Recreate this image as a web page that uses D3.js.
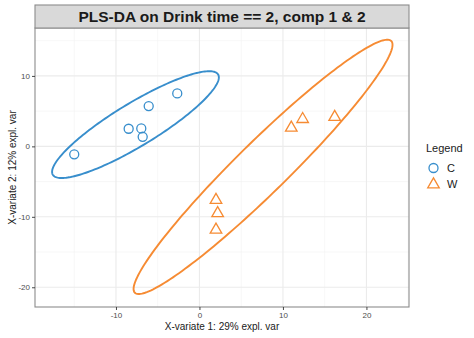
<!DOCTYPE html>
<html>
<head>
<meta charset="utf-8">
<script src="https://cdn.jsdelivr.net/npm/d3@7"></script>
<style>
  html, body { margin: 0; padding: 0; background: #fff; }
  svg { display: block; font-family: "Liberation Sans", Arial, Helvetica, sans-serif; }
</style>
</head>
<body>
<svg id="chart" width="474" height="338"></svg>
<script>
// Sample scores on the first two PLS-DA components
const groups = ["C", "W"];
const groupColors = ["#388ECC", "#F68B33"];
const compC_x = [-15.0, -8.48, -6.97, -6.8, -6.08, -2.66];
const compC_y = [-1.13, 2.5, 2.55, 1.36, 5.72, 7.52];
const compW_x = [11.0, 12.36, 16.2, 1.98, 2.18, 1.98];
const compW_y = [2.78, 4.0, 4.3, -7.48, -9.36, -11.7];
const xTicks = [-10, 0, 10, 20];
const yTicks = [-20, -10, 0, 10];
const xMinor = [-15, -5, 5, 15, 25];
const yMinor = [-15, -5, 5, 15];
const titleText = "PLS-DA on Drink time == 2, comp 1 & 2";
const xLabel = "X-variate 1: 29% expl. var";
const yLabel = "X-variate 2: 12% expl. var";
const ellipseLevel = 0.95;

const svg = d3.select("#chart");
const panel = { left: 35, right: 409, top: 28, bottom: 307 };
const strip = { top: 5, bottom: 28 };

const x = d3.scaleLinear().domain([-19.7, 25.1]).range([panel.left, panel.right]);
const y = d3.scaleLinear().domain([-22.8, 16.8]).range([panel.bottom, panel.top]);

// Panel background and grid
svg.append("rect")
  .attr("x", panel.left).attr("y", panel.top)
  .attr("width", panel.right - panel.left).attr("height", panel.bottom - panel.top)
  .attr("fill", "#fff");

const grid = svg.append("g");
grid.selectAll("line.xminor").data(xMinor.filter(v => x(v) < panel.right)).join("line")
  .attr("x1", d => x(d)).attr("x2", d => x(d))
  .attr("y1", panel.top).attr("y2", panel.bottom)
  .attr("stroke", "#f2f2f2").attr("stroke-width", 0.6);
grid.selectAll("line.yminor").data(yMinor).join("line")
  .attr("y1", d => y(d)).attr("y2", d => y(d))
  .attr("x1", panel.left).attr("x2", panel.right)
  .attr("stroke", "#f2f2f2").attr("stroke-width", 0.6);
grid.selectAll("line.xmajor").data(xTicks).join("line")
  .attr("x1", d => x(d)).attr("x2", d => x(d))
  .attr("y1", panel.top).attr("y2", panel.bottom)
  .attr("stroke", "#ebebeb").attr("stroke-width", 1.1);
grid.selectAll("line.ymajor").data(yTicks).join("line")
  .attr("y1", d => y(d)).attr("y2", d => y(d))
  .attr("x1", panel.left).attr("x2", panel.right)
  .attr("stroke", "#ebebeb").attr("stroke-width", 1.1);

// Confidence ellipse from the sample covariance (chi-square, 2 df)
function confidenceEllipse(xs, ys, level) {
  const n = xs.length;
  const mx = d3.mean(xs), my = d3.mean(ys);
  let sxx = 0, syy = 0, sxy = 0;
  for (let i = 0; i < n; i++) {
    const dx = xs[i] - mx, dy = ys[i] - my;
    sxx += dx * dx; syy += dy * dy; sxy += dx * dy;
  }
  sxx /= (n - 1); syy /= (n - 1); sxy /= (n - 1);
  const t = Math.sqrt(-2 * Math.log(1 - level));
  const sx = Math.sqrt(sxx), sy = Math.sqrt(syy);
  const r = sxy / (sx * sy);
  const d = Math.acos(r);
  const pts = [];
  for (let k = 0; k <= 200; k++) {
    const a = (k / 200) * 2 * Math.PI;
    pts.push([mx + t * sx * Math.cos(a + d / 2), my + t * sy * Math.cos(a - d / 2)]);
  }
  return pts;
}

const seriesX = [compC_x, compW_x];
const seriesY = [compC_y, compW_y];

const line = d3.line().x(d => x(d[0])).y(d => y(d[1])).curve(d3.curveLinearClosed);
svg.append("clipPath").attr("id", "panelClip").append("rect")
  .attr("x", panel.left).attr("y", panel.top)
  .attr("width", panel.right - panel.left).attr("height", panel.bottom - panel.top);

const plot = svg.append("g").attr("clip-path", "url(#panelClip)");
groups.forEach((g, i) => {
  plot.append("path")
    .datum(confidenceEllipse(seriesX[i], seriesY[i], ellipseLevel))
    .attr("d", line)
    .attr("fill", "none")
    .attr("stroke", groupColors[i])
    .attr("stroke-width", 1.9);
});

// Points
const circleSym = d3.symbol().type(d3.symbolCircle).size(64);
const triSym = d3.symbol().type(d3.symbolTriangle).size(58);
groups.forEach((g, i) => {
  const pts = seriesX[i].map((v, j) => [v, seriesY[i][j]]);
  plot.selectAll(null).data(pts).join("path")
    .attr("transform", d => `translate(${x(d[0])},${y(d[1]) + (i === 1 ? 1 : 0)})`)
    .attr("d", i === 0 ? circleSym : triSym)
    .attr("fill", "none")
    .attr("stroke", groupColors[i])
    .attr("stroke-width", 1.3);
});

// Panel border
svg.append("rect")
  .attr("x", panel.left).attr("y", panel.top)
  .attr("width", panel.right - panel.left).attr("height", panel.bottom - panel.top)
  .attr("fill", "none").attr("stroke", "#8c8c8c").attr("stroke-width", 1.1);

// Title strip
svg.append("rect")
  .attr("x", panel.left).attr("y", strip.top)
  .attr("width", panel.right - panel.left).attr("height", strip.bottom - strip.top)
  .attr("fill", "#d9d9d9").attr("stroke", "#8c8c8c").attr("stroke-width", 1.1);
svg.append("text")
  .attr("x", (panel.left + panel.right) / 2).attr("y", (strip.top + strip.bottom) / 2 + 5.5)
  .attr("text-anchor", "middle")
  .attr("font-weight", "bold").attr("font-size", 15.5).attr("fill", "#1a1a1a")
  .text(titleText);

// Axes
const xAxis = svg.append("g").attr("transform", `translate(0,${panel.bottom})`)
  .call(d3.axisBottom(x).tickValues(xTicks).tickSize(3).tickPadding(2));
const yAxis = svg.append("g").attr("transform", `translate(${panel.left},0)`)
  .call(d3.axisLeft(y).tickValues(yTicks).tickSize(3).tickPadding(2));
[xAxis, yAxis].forEach(a => {
  a.select(".domain").remove();
  a.selectAll(".tick line").attr("stroke", "#333").attr("stroke-width", 0.9);
  a.selectAll(".tick text").attr("fill", "#4d4d4d").attr("font-size", 8)
    .attr("font-family", "Liberation Sans, Arial, sans-serif")
    .text(d => String(d));
});

svg.append("text")
  .attr("x", (panel.left + panel.right) / 2).attr("y", 330)
  .attr("text-anchor", "middle").attr("font-size", 10).attr("fill", "#1a1a1a")
  .text(xLabel);
svg.append("text")
  .attr("transform", `translate(15.5,${(panel.top + panel.bottom) / 2}) rotate(-90)`)
  .attr("text-anchor", "middle").attr("font-size", 10).attr("fill", "#1a1a1a")
  .text(yLabel);

// Legend
const legend = svg.append("g");
legend.append("text").attr("x", 426).attr("y", 152)
  .attr("font-size", 11).attr("fill", "#1a1a1a").text("Legend");
groups.forEach((g, i) => {
  const cy = 168 + i * 15.5;
  legend.append("path")
    .attr("transform", `translate(433.5,${cy + (i === 1 ? 1 : 0)})`)
    .attr("d", i === 0 ? circleSym : triSym)
    .attr("fill", "none").attr("stroke", groupColors[i]).attr("stroke-width", 1.3);
  legend.append("text").attr("x", 447).attr("y", cy + 4)
    .attr("font-size", 11).attr("fill", "#1a1a1a").text(g);
});
</script>
</body>
</html>
